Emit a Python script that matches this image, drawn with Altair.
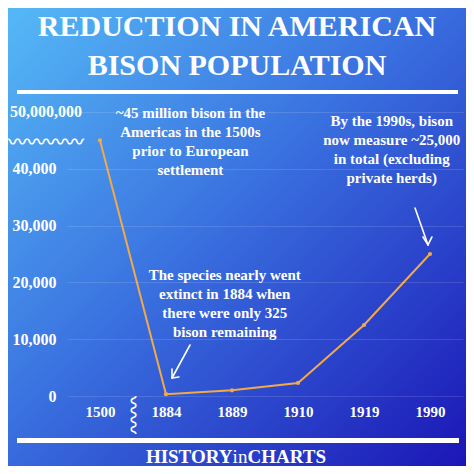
import json
import altair as alt
import pandas as pd

# ---- data ----
years = ["1500", "1884", "1889", "1910", "1919", "1990"]
population = [45000000, 325, 1000, 2300, 12500, 25000]

y_ticks = [0, 10000, 20000, 30000, 40000, 50000]

ann_text = [
    "~45 million bison in the\nAmericas in the 1500s\nprior to European\nsettlement",
    "The species nearly went\nextinct in 1884 when\nthere were only 325\nbison remaining",
    "By the 1990s, bison\nnow measure ~25,000\nin total (excluding\nprivate herds)",
]
ann_x = [1.37, 1.89, 4.42]
ann_y = [49800, 21300, 48400]

# arrow segments (shaft + two head arms) in data units
arrow_x = [1.364, 1.091, 1.091, 4.773, 4.97, 4.97]
arrow_y = [8980, 3170, 3170, 33100, 26600, 26600]
arrow_x2 = [1.091, 1.091, 1.197, 4.97, 4.894, 5.03]
arrow_y2 = [3170, 4750, 3350, 26600, 28000, 28000]

FONT = "Liberation Serif"
WHITE = "#ffffff"
ORANGE = "#f2a947"

df = pd.DataFrame({"idx": list(range(len(years))), "year": years, "population": population})
ann_df = pd.DataFrame({"ax": ann_x, "ay": ann_y, "txt": ann_text})
arr_df = pd.DataFrame({"x1": arrow_x, "y1": arrow_y, "x2": arrow_x2, "y2": arrow_y2})
one = pd.DataFrame({"a": [0]})

xs = alt.Scale(domain=[-0.5, 5.5], nice=False, zero=False)
ys = alt.Scale(domain=[0, 50000], nice=False)
xa = alt.Axis(
    values=list(range(len(years))),
    labelExpr=json.dumps(years) + "[datum.value]",
    title=None, grid=False, domain=False, ticks=False,
    labelFont=FONT, labelFontWeight="bold", labelFontSize=15, labelColor=WHITE,
    labelPadding=8, zindex=1,
)
ya = alt.Axis(
    values=y_ticks,
    labelExpr="datum.value == 50000 ? '' : format(datum.value, ',')",
    title=None, grid=True, gridColor=WHITE, gridOpacity=0.13, domain=False, ticks=False,
    labelFont=FONT, labelFontWeight="bold", labelFontSize=16, labelColor=WHITE,
    labelPadding=11, zindex=1,
)

grad = alt.LinearGradient(
    gradient="linear",
    stops=[
        alt.GradientStop(color="#55b9f6", offset=0),
        alt.GradientStop(color="#3a72e0", offset=0.45),
        alt.GradientStop(color="#1b16b6", offset=1),
    ],
    x1=0, y1=0, x2=1, y2=1,
)

bg = alt.Chart(one).mark_rect(fill=grad).encode(
    x=alt.value(-59), x2=alt.value(399), y=alt.value(-104), y2=alt.value(354)
)

base = alt.Chart(df).transform_calculate(
    plot_y="datum.population > 50000 ? datum.population / 1000 : datum.population"
)
line = base.mark_line(color=ORANGE, strokeWidth=2).encode(
    x=alt.X("idx:Q", scale=xs, axis=xa),
    y=alt.Y("plot_y:Q", scale=ys, axis=ya),
)
pts = base.mark_point(filled=True, color=ORANGE, size=18, opacity=1).encode(
    x=alt.X("idx:Q", scale=xs, axis=xa),
    y=alt.Y("plot_y:Q", scale=ys, axis=ya),
)

ann = alt.Chart(ann_df).mark_text(
    lineBreak="\n", font=FONT, fontWeight="bold", fontSize=15, color=WHITE,
    align="center", baseline="middle", lineHeight=19,
).encode(
    x=alt.X("ax:Q", scale=xs, axis=xa),
    y=alt.Y("ay:Q", scale=ys, axis=ya),
    text="txt:N",
)

arrows = alt.Chart(arr_df).mark_rule(color=WHITE, strokeWidth=1.6, strokeCap="round").encode(
    x=alt.X("x1:Q", scale=xs, axis=xa),
    y=alt.Y("y1:Q", scale=ys, axis=ya),
    x2="x2:Q",
    y2="y2:Q",
)

label_50m = alt.Chart(pd.DataFrame({"v": [50000], "t": ["50,000,000"]})).mark_text(
    font=FONT, fontWeight="bold", fontSize=16, color=WHITE, align="left", baseline="middle"
).encode(
    x=alt.value(-57),
    y=alt.Y("v:Q", scale=ys, axis=ya),
    text="t:N",
)

squig_y = alt.Chart(one).mark_text(
    text="〰〰〰〰", font="Noto Sans CJK SC", fontWeight="bold", fontSize=19, color=WHITE,
    align="left", baseline="middle",
).encode(x=alt.value(-59), y=alt.value(31))

squig_x = alt.Chart(one).mark_text(
    text="〰〰", font="Noto Sans CJK SC", fontWeight="bold", fontSize=19, color=WHITE,
    align="center", baseline="middle", angle=90,
).encode(x=alt.value(65), y=alt.value(303))

title1 = alt.Chart(one).mark_text(
    text="REDUCTION IN AMERICAN", font=FONT, fontWeight="bold", fontSize=30, color=WHITE,
    align="center", baseline="middle",
).encode(x=alt.value(170), y=alt.value(-85))
title2 = alt.Chart(one).mark_text(
    text="BISON POPULATION", font=FONT, fontWeight="bold", fontSize=30, color=WHITE,
    align="center", baseline="middle",
).encode(x=alt.value(170), y=alt.value(-46))

bar_top = alt.Chart(one).mark_rect(color=WHITE).encode(
    x=alt.value(-50), x2=alt.value(391), y=alt.value(-22), y2=alt.value(-18)
)
bar_bot = alt.Chart(one).mark_rect(color=WHITE).encode(
    x=alt.value(-50), x2=alt.value(392), y=alt.value(326), y2=alt.value(331)
)

foot1 = alt.Chart(one).mark_text(
    text="HISTORY", font=FONT, fontWeight="bold", fontSize=19, color=WHITE,
    align="right", baseline="alphabetic",
).encode(x=alt.value(165.5), y=alt.value(351))
foot2 = alt.Chart(one).mark_text(
    text="in", font=FONT, fontWeight="normal", fontSize=19, color=WHITE,
    align="center", baseline="alphabetic",
).encode(x=alt.value(173), y=alt.value(351))
foot3 = alt.Chart(one).mark_text(
    text="CHARTS", font=FONT, fontWeight="bold", fontSize=19, color=WHITE,
    align="left", baseline="alphabetic",
).encode(x=alt.value(180.5), y=alt.value(351))

chart = alt.layer(
    bg, line, pts, ann, arrows, label_50m, squig_y, squig_x,
    title1, title2, bar_top, bar_bot, foot1, foot2, foot3,
).properties(
    width=396,
    height=284,
    autosize=alt.AutoSizeParams(type="none"),
    padding={"left": 59, "top": 104, "right": 3, "bottom": 70},
    background="#2f5ad6",
).configure_view(stroke=None)

chart.save("out.html", embed_options={"renderer": "svg", "actions": False})
